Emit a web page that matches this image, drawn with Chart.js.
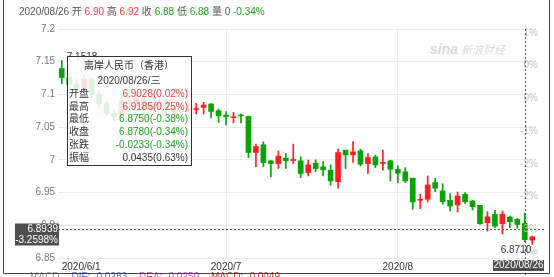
<!DOCTYPE html>
<html>
<head>
<meta charset="utf-8">
<script src="https://cdn.jsdelivr.net/npm/chart.js@4.4.1/dist/chart.umd.min.js"></script>
<style>
  html, body { margin: 0; padding: 0; background: #fff; }
  #wrap { position: relative; width: 554px; height: 277px; overflow: hidden; }
</style>
</head>
<body>
<div id="wrap"><canvas id="kline" width="554" height="277"></canvas></div>
<script>
// Offshore CNY (HK) daily candles, 2020/06/01 - 2020/08/27
const dates = [
  '2020/06/01','2020/06/02','2020/06/03','2020/06/04','2020/06/05',
  '2020/06/08','2020/06/09','2020/06/10','2020/06/11','2020/06/12',
  '2020/06/15','2020/06/16','2020/06/17','2020/06/18','2020/06/19',
  '2020/06/22','2020/06/23','2020/06/24','2020/06/25','2020/06/26',
  '2020/06/29','2020/06/30',
  '2020/07/01','2020/07/02','2020/07/03',
  '2020/07/06','2020/07/07','2020/07/08','2020/07/09','2020/07/10',
  '2020/07/13','2020/07/14','2020/07/15','2020/07/16','2020/07/17',
  '2020/07/20','2020/07/21','2020/07/22','2020/07/23','2020/07/24',
  '2020/07/27','2020/07/28','2020/07/29','2020/07/30','2020/07/31',
  '2020/08/03','2020/08/04','2020/08/05','2020/08/06','2020/08/07',
  '2020/08/10','2020/08/11','2020/08/12','2020/08/13','2020/08/14',
  '2020/08/17','2020/08/18','2020/08/19','2020/08/20','2020/08/21',
  '2020/08/24','2020/08/25','2020/08/26','2020/08/27'
];
const opens = [
  7.1396, 7.1258, 7.1150, 7.1090, 7.1240, 7.1000, 7.0860, 7.0710, 7.0660, 7.0900,
  7.0870, 7.0940, 7.0780, 7.0820, 7.0900, 7.0800, 7.0730, 7.0740, 7.0770, 7.0802,
  7.0854, 7.0751, 7.0685, 7.0645, 7.0678, 7.0664, 7.0112, 7.0230, 6.9985, 6.9943,
  7.0026, 6.9990, 6.9985, 6.9806, 6.9949, 6.9893, 6.9842, 6.9667, 7.0148, 7.0077,
  7.0138, 6.9943, 7.0046, 6.9945, 6.9985, 6.9857, 6.9816, 6.9719, 6.9382, 6.9397,
  6.9652, 6.9525, 6.9382, 6.9310, 6.9474, 6.9371, 6.9305, 6.9039, 6.9167, 6.9023,
  6.9126, 6.9090, 6.9028, 6.8773
];
const highs = [
  7.1518, 7.1300, 7.1230, 7.1290, 7.1270, 7.1050, 7.0890, 7.0760, 7.0950, 7.0980,
  7.1000, 7.0960, 7.0870, 7.0960, 7.0930, 7.0830, 7.0800, 7.0860, 7.0864, 7.0879,
  7.0860, 7.0777, 7.0736, 7.0726, 7.0701, 7.0670, 7.0240, 7.0276, 6.9990, 7.0138,
  7.0097, 7.0240, 7.0046, 6.9995, 7.0000, 6.9974, 6.9923, 7.0164, 7.0150, 7.0281,
  7.0164, 7.0097, 7.0072, 7.0148, 6.9995, 6.9908, 6.9882, 6.9720, 6.9474, 6.9755,
  6.9719, 6.9637, 6.9483, 6.9509, 6.9498, 6.9382, 6.9306, 6.9207, 6.9228, 6.9218,
  6.9141, 6.9106, 6.9185, 6.8834
];
const lows = [
  7.1166, 7.1050, 7.1020, 7.1060, 7.0950, 7.0800, 7.0680, 7.0600, 7.0640, 7.0800,
  7.0820, 7.0700, 7.0740, 7.0790, 7.0720, 7.0680, 7.0640, 7.0720, 7.0701, 7.0701,
  7.0640, 7.0572, 7.0532, 7.0563, 7.0563, 7.0035, 6.9897, 6.9893, 6.9739, 6.9867,
  6.9867, 6.9943, 6.9729, 6.9755, 6.9820, 6.9755, 6.9612, 6.9566, 6.9867, 6.9959,
  6.9908, 6.9791, 6.9882, 6.9842, 6.9678, 6.9652, 6.9652, 6.9244, 6.9253, 6.9356,
  6.9514, 6.9320, 6.9218, 6.9202, 6.9336, 6.9233, 6.9014, 6.8911, 6.8962, 6.8870,
  6.8962, 6.8953, 6.8750, 6.8710
];
const closes = [
  7.1258, 7.1150, 7.1090, 7.1240, 7.1000, 7.0860, 7.0710, 7.0660, 7.0900, 7.0870,
  7.0940, 7.0780, 7.0820, 7.0900, 7.0800, 7.0730, 7.0740, 7.0780, 7.0777, 7.0839,
  7.0741, 7.0675, 7.0660, 7.0649, 7.0672, 7.0112, 7.0204, 6.9959, 6.9943, 7.0056,
  6.9985, 6.9995, 6.9791, 6.9923, 6.9867, 6.9847, 6.9678, 7.0112, 7.0077, 7.0123,
  6.9934, 7.0035, 6.9923, 6.9949, 6.9857, 6.9796, 6.9678, 6.9356, 6.9387, 6.9617,
  6.9566, 6.9360, 6.9294, 6.9448, 6.9360, 6.9284, 6.9023, 6.9131, 6.8988, 6.9167,
  6.9054, 6.9013, 6.8780, 6.8824
];

// crosshair state shown in the picture
const crossDate = '2020/08/26';
const crossValue = 6.8939;
const crossPct = -3.2598;
const volume = 0;
const weekday = '三';
const tipTitle = '离岸人民币（香港）';
const macdLabels = [['MACD', '#9a9a9a'], ['DIF: -0.0283', '#5b6fe6'], ['DEA: -0.0250', '#e246e2'], ['MACD: -0.0049', '#c43a3a']];

const FONT = '"Liberation Sans", Arial, "Noto Sans CJK SC", sans-serif';
const UP = '#ff1f1f';
const DOWN = '#07a307';
const TXT_UP = '#f23c3c';
const TXT_DOWN = '#1aa51a';

const candleColors = opens.map((o, i) => closes[i] >= o ? UP : DOWN);

// x tick text: full date for the first day, year/month where a month starts
function tickText(i) {
  const p = dates[i].split('/');
  if (i === 0) return p[0] + '/' + (+p[1]) + '/' + (+p[2]);
  if (dates[i - 1].split('/')[1] !== p[1]) return p[0] + '/' + (+p[1]);
  return '';
}

const overlay = {
  id: 'overlay',
  beforeDatasetsDraw(chart) {
    const ctx = chart.ctx;
    ctx.save();
    ctx.fillStyle = '#d9d9d9';
    ctx.font = 'italic bold 14px ' + FONT;
    ctx.fillText('sina', 430, 54);
    ctx.font = 'italic 11px ' + FONT;
    ctx.fillText('新浪财经', 461, 54);
    ctx.restore();
  },
  afterDraw(chart) {
    const ctx = chart.ctx, a = chart.chartArea, xs = chart.scales.x, ys = chart.scales.y;
    const ci = dates.indexOf(crossDate);
    const prev = closes[ci - 1];
    ctx.save();
    ctx.font = '10px ' + FONT;

    // percent labels on the right
    const base = crossValue / (1 + crossPct / 100);
    ctx.fillStyle = '#c4c4c4';
    ctx.textAlign = 'right';
    ctx.textBaseline = 'middle';
    ys.ticks.forEach(t => {
      const py = Math.min(ys.getPixelForValue(t.value) + 4, a.bottom - 7);
      ctx.fillText(Math.round((t.value / base - 1) * 100) + '%', a.right + 2, py);
    });

    // highest / lowest markers
    const hi = highs.indexOf(Math.max(...highs));
    const lo = lows.indexOf(Math.min(...lows));
    ctx.fillStyle = '#333';
    ctx.textAlign = 'left';
    ctx.textBaseline = 'alphabetic';
    ctx.fillText(highs[hi].toFixed(4), xs.getPixelForValue(hi) + 5, ys.getPixelForValue(highs[hi]) - 1);
    ctx.textAlign = 'right';
    ctx.textBaseline = 'top';
    ctx.fillText(lows[lo].toFixed(4), xs.getPixelForValue(lo) - 1, ys.getPixelForValue(lows[lo]) + 1);

    // crosshair
    const cx = Math.round(xs.getPixelForValue(ci)) + 0.5;
    const cy = Math.round(ys.getPixelForValue(crossValue)) + 0.5;
    ctx.strokeStyle = '#555';
    ctx.lineWidth = 1;
    ctx.setLineDash([2, 2]);
    ctx.beginPath();
    ctx.moveTo(cx, a.top);
    ctx.lineTo(cx, 277);
    ctx.moveTo(a.left, cy);
    ctx.lineTo(546, cy);
    ctx.stroke();
    ctx.setLineDash([]);

    // value box on the left
    ctx.fillStyle = 'rgba(64,64,64,0.92)';
    ctx.fillRect(15, cy - 6, 44, 22);
    ctx.fillStyle = '#fff';
    ctx.textAlign = 'right';
    ctx.textBaseline = 'middle';
    ctx.fillText(crossValue.toFixed(4), 58, cy);
    ctx.fillText(crossPct.toFixed(4) + '%', 58, cy + 11);

    // date box at the bottom
    const bw = 51, bx = Math.min(cx - bw / 2, 544 - bw);
    ctx.fillStyle = 'rgba(64,64,64,0.92)';
    ctx.fillRect(bx, 260, bw, 11);
    ctx.fillStyle = '#fff';
    ctx.textAlign = 'center';
    ctx.fillText(crossDate, bx + bw / 2, 265.5);

    // info panel
    const px = a.left + 9, py = a.top + 27, pw = 124, ph = 109;
    ctx.fillStyle = 'rgba(255,255,255,0.86)';
    ctx.fillRect(px, py, pw, ph);
    ctx.strokeStyle = '#333';
    ctx.strokeRect(px + 0.5, py + 0.5, pw, ph);
    ctx.fillStyle = '#333';
    ctx.textAlign = 'center';
    ctx.fillText(tipTitle, px + pw / 2, py + 10);
    ctx.fillText(crossDate + '/' + weekday, px + pw / 2, py + 25);
    const pct = v => (v / prev - 1) * 100;
    const col = v => v > 0 ? TXT_UP : (v < 0 ? TXT_DOWN : '#333');
    const o = opens[ci], h = highs[ci], l = lows[ci], c = closes[ci];
    const rows = [
      ['开盘', o.toFixed(4) + '(' + pct(o).toFixed(2) + '%)', col(pct(o))],
      ['最高', h.toFixed(4) + '(' + pct(h).toFixed(2) + '%)', col(pct(h))],
      ['最低', l.toFixed(4) + '(' + pct(l).toFixed(2) + '%)', col(pct(l))],
      ['收盘', c.toFixed(4) + '(' + pct(c).toFixed(2) + '%)', col(pct(c))],
      ['张跌', (c - prev).toFixed(4) + '(' + pct(c).toFixed(2) + '%)', col(c - prev)],
      ['振幅', (h - l).toFixed(4) + '(' + ((h - l) / prev * 100).toFixed(2) + '%)', '#333']
    ];
    rows.forEach((r, k) => {
      const ry = py + 38 + k * 12.8;
      ctx.textAlign = 'left';
      ctx.fillStyle = '#333';
      ctx.fillText(r[0], px + 2, ry);
      ctx.textAlign = 'right';
      ctx.fillStyle = r[2];
      ctx.fillText(r[1], px + pw - 3, ry);
    });

    // header line
    const head = [
      [crossDate + ' 开 ', '#555'], [o.toFixed(2), TXT_UP], [' 高 ', '#555'], [h.toFixed(2), TXT_UP],
      [' 收 ', '#555'], [c.toFixed(2), TXT_DOWN], [' 低 ', '#555'], [l.toFixed(2), TXT_DOWN],
      [' 量 ' + volume + ' ', '#555'], [pct(c).toFixed(2) + '%', TXT_DOWN]
    ];
    ctx.textAlign = 'left';
    ctx.textBaseline = 'middle';
    let hx = 19;
    head.forEach(s => {
      ctx.fillStyle = s[1];
      ctx.fillText(s[0], hx, 12);
      hx += ctx.measureText(s[0]).width;
    });

    // MACD legend, cut by the bottom edge
    ctx.textBaseline = 'alphabetic';
    let mx = 30;
    macdLabels.forEach(s => {
      ctx.fillStyle = s[1];
      ctx.fillText(s[0], mx, 280);
      mx += ctx.measureText(s[0]).width + 12;
    });

    // frame
    ctx.strokeStyle = '#444';
    ctx.beginPath();
    ctx.moveTo(3.5, 0);
    ctx.lineTo(3.5, 273.5);
    ctx.lineTo(549.5, 273.5);
    ctx.lineTo(549.5, 0);
    ctx.stroke();
    ctx.restore();
  }
};

new Chart(document.getElementById('kline'), {
  type: 'bar',
  data: {
    labels: dates,
    datasets: [
      {
        label: 'body',
        data: dates.map((d, i) => [opens[i], closes[i]]),
        backgroundColor: candleColors,
        barThickness: 5,
        minBarLength: 1,
        grouped: false,
        order: 0
      },
      {
        label: 'wick',
        data: dates.map((d, i) => [lows[i], highs[i]]),
        backgroundColor: candleColors,
        barThickness: 1,
        grouped: false,
        order: 1
      }
    ]
  },
  options: {
    responsive: false,
    animation: false,
    events: [],
    layout: { padding: { left: 0, right: 18, top: 29, bottom: 0 } },
    plugins: { legend: { display: false }, tooltip: { enabled: false } },
    scales: {
      x: {
        offset: true,
        grid: {
          offset: false,
          drawTicks: false,
          color: c => (c.index > 0 && tickText(c.index)) ? '#ebebeb' : 'rgba(0,0,0,0)'
        },
        border: { display: false },
        ticks: {
          autoSkip: false,
          maxRotation: 0,
          align: 'inner',
          padding: 3,
          color: '#333',
          font: { family: FONT, size: 10 },
          callback: (v, i) => tickText(i)
        },
        afterFit: s => { s.height = 19; }
      },
      y: {
        min: 6.85,
        max: 7.2,
        grid: { drawTicks: false, color: '#ebebeb' },
        border: { display: false },
        ticks: {
          stepSize: 0.05,
          padding: 3,
          color: '#777',
          font: { family: FONT, size: 10 },
          callback: v => String(+v.toFixed(2))
        },
        afterFit: s => { s.width = 58; }
      }
    }
  },
  plugins: [overlay]
});
</script>
</body>
</html>
